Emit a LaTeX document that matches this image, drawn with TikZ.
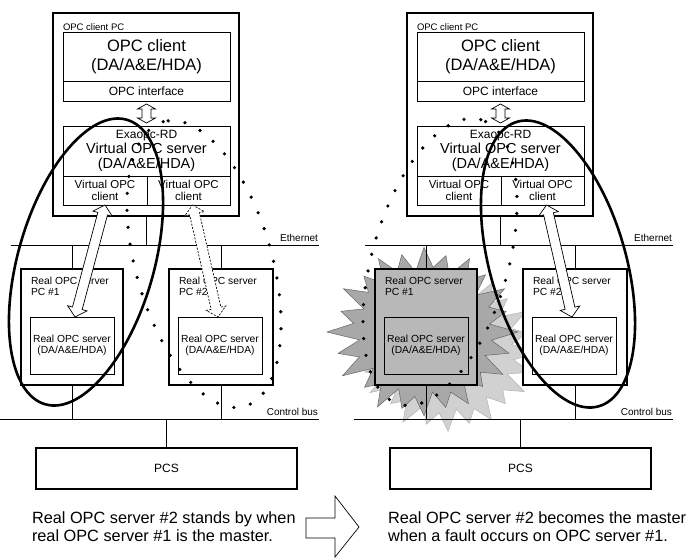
\documentclass[tikz,border=0pt]{standalone}
\usepackage{fontspec}
\setmainfont{Liberation Sans}
\usetikzlibrary{calc}
\newcommand\fsz[2]{\fontsize{#1}{#2}\selectfont}
\definecolor{stardark}{gray}{0.66}
\definecolor{starlight}{gray}{0.82}
\definecolor{failgray}{gray}{0.72}
\tikzset{
  thickbox/.style={draw, line width=2.6pt, anchor=north west, inner sep=0pt, outer sep=0pt},
  thinbox/.style={draw, line width=0.75pt, anchor=north west, inner sep=0pt, outer sep=0pt, align=center},
  bus/.style={line width=0.75pt},
  solidell/.style={line width=2.6pt},
  dotell/.style={line width=3.6pt, dash pattern=on 0pt off 17pt, line cap=round},
  lbl/.style={inner sep=0pt, outer sep=0pt},
}
% hollow double-headed arrow: [style]{from}{to}{head length}{head half width}{shaft half width}
\newcommand\hollowarrow[6][]{%
  \draw[fill=white, line width=0.7pt, #1] let \p1=(#2), \p2=(#3),
    \n1={atan2(\y2-\y1,\x2-\x1)}, \n2={veclen(\x2-\x1,\y2-\y1)} in
    [shift={(\p1)}, rotate=\n1]
    (0pt,0pt) -- (#4pt,#5pt) -- (#4pt,#6pt) -- (\n2-#4pt,#6pt) -- (\n2-#4pt,#5pt) -- (\n2,0pt)
    -- (\n2-#4pt,-#5pt) -- (\n2-#4pt,-#6pt) -- (#4pt,-#6pt) -- (#4pt,-#5pt) -- cycle;}
\newcommand\drawpanel[2]{%
  \coordinate (#1ethL) at (11,245);
  \coordinate (#1ethR) at (319,245);
  \coordinate (#1cbL) at (0,419);
  \coordinate (#1cbR) at (319,419);
  \draw[bus] (#1ethL) -- (#1ethR);
  \draw[bus] (#1cbL) -- (#1cbR);
  \node[lbl, font=\fsz{10}{12}, anchor=base east] (#1ethlbl) at (318,241) {Ethernet};
  \node[lbl, font=\fsz{10}{12}, anchor=base east] (#1cblbl) at (318,415) {Control bus};
  % client PC
  \node[thickbox, fill=white, minimum width=186pt, minimum height=203pt] (#1cpc) at (53,13) {};
  \node[lbl, font=\fsz{9.5}{11}, anchor=base west] (#1cpcl) at (63,30) {OPC client PC};
  \node[thinbox, minimum width=167pt, minimum height=49pt, font=\fsz{16.5}{19}] (#1oc) at (63,32) {OPC client\\(DA/A\&E/HDA)};
  \node[thinbox, minimum width=167pt, minimum height=20pt, font=\fsz{12}{14}] (#1if) at (63,81) {OPC interface};
  \node[thinbox, minimum width=167pt, minimum height=50pt, font=\fsz{14.5}{15}] (#1ex) at (63,126) {{\fsz{12}{15}Exaopc-RD}\\Virtual OPC server\\(DA/A\&E/HDA)};
  \node[thinbox, minimum width=84pt, minimum height=29pt, font=\fsz{11.5}{12.5}] (#1vc1) at (63,176) {Virtual OPC\\client};
  \node[thinbox, minimum width=83pt, minimum height=29pt, font=\fsz{11.5}{12.5}] (#1vc2) at (147,176) {Virtual OPC\\client};
  \hollowarrow{$(#1if.south)+(0,3)$}{$(#1ex.north)+(0,-3)$}{5}{9}{4.5}
  \draw[bus] (#1cpc.south) -- (#1cpc.south |- #1ethL);
  % real OPC server PC 1
  \node[thickbox, fill=#2, minimum width=102pt, minimum height=116pt] (#1pc1) at (21,269) {};
  \node[lbl, font=\fsz{10.3}{11.5}, anchor=north west, align=left] (#1pc1l) at (31,277) {Real OPC server\\PC \#1};
  \node[thinbox, fill=#2, minimum width=84pt, minimum height=57pt, font=\fsz{10.3}{11.5}] (#1rs1) at (30,317) {Real OPC server\\(DA/A\&E/HDA)};
  % real OPC server PC 2
  \node[thickbox, fill=white, minimum width=104pt, minimum height=116pt] (#1pc2) at (169,269) {};
  \node[lbl, font=\fsz{10.3}{11.5}, anchor=north west, align=left] (#1pc2l) at (179,277) {Real OPC server\\PC \#2};
  \node[thinbox, fill=white, minimum width=84pt, minimum height=57pt, font=\fsz{10.3}{11.5}] (#1rs2) at (178,317) {Real OPC server\\(DA/A\&E/HDA)};
  \draw[bus] (#1pc1.north) -- (#1pc1.north |- #1ethL);
  \draw[bus] (#1pc1.south) -- (#1pc1.south |- #1cbL);
  \draw[bus] (#1pc2.north) -- (#1pc2.north |- #1ethL);
  \draw[bus] (#1pc2.south) -- (#1pc2.south |- #1cbL);
  % PCS
  \node[thickbox, fill=white, minimum width=261pt, minimum height=41pt, font=\fsz{12}{14}] (#1pcs) at (36,448) {PCS};
  \draw[bus] (#1pcs.north) -- (#1pcs.north |- #1cbL);
}
\begin{document}
\begin{tikzpicture}[x=1pt, y=-1pt]
\useasboundingbox (0,0) rectangle (694,558);
\fill[white] (0,0) rectangle (694,558);
% fault bursts
\begin{scope}[shift={(448,352)}, yscale=0.9]
\draw[fill=starlight, draw=black!30, line width=0.5pt]
 (0:90) -- (7.5:66) -- (15:86) -- (22.5:64) -- (30:88) -- (37.5:69) -- (45:81) -- (52.5:63) -- (60:87) -- (67.5:68)
 -- (75:82) -- (82.5:64) -- (90:88) -- (97.5:68) -- (105:83) -- (112.5:65) -- (120:90) -- (127.5:68) -- (135:81) -- (142.5:63)
 -- (150:90) -- (157.5:67) -- (165:86) -- (172.5:64) -- (180:92) -- (187.5:69) -- (195:83) -- (202.5:64) -- (210:89) -- (217.5:68)
 -- (225:82) -- (232.5:67) -- (240:88) -- (247.5:66) -- (255:85) -- (262.5:64) -- (270:88) -- (277.5:68) -- (285:82) -- (292.5:64)
 -- (300:89) -- (307.5:68) -- (315:84) -- (322.5:64) -- (330:90) -- (337.5:68) -- (345:82) -- (352.5:64) -- cycle;
\end{scope}
\begin{scope}[shift={(424,332)}, yscale=0.93]
\draw[fill=stardark, draw=black!60, line width=0.5pt]
 (0:94) -- (7.5:68) -- (15:88) -- (22.5:66) -- (30:91) -- (37.5:71) -- (45:83) -- (52.5:64) -- (60:89) -- (67.5:70)
 -- (75:84) -- (82.5:65) -- (90:90) -- (97.5:70) -- (105:85) -- (112.5:66) -- (120:93) -- (127.5:70) -- (135:84) -- (142.5:64)
 -- (150:94) -- (157.5:70) -- (165:89) -- (172.5:65) -- (180:97) -- (187.5:71) -- (195:86) -- (202.5:65) -- (210:93) -- (217.5:70)
 -- (225:85) -- (232.5:66) -- (240:91) -- (247.5:70) -- (255:86) -- (262.5:65) -- (270:91) -- (277.5:70) -- (285:85) -- (292.5:66)
 -- (300:91) -- (307.5:70) -- (315:87) -- (322.5:65) -- (330:93) -- (337.5:70) -- (345:85) -- (352.5:66) -- cycle;
\end{scope}
\drawpanel{L}{white}
\begin{scope}[xshift=354pt]
\drawpanel{R}{failgray}
\end{scope}
% links between virtual clients and real servers
\hollowarrow{Lvc1.south}{$(Lrs1.north)+(3,0)$}{9}{10}{5}
\hollowarrow[dash pattern=on 2pt off 1.5pt]{$(Lvc2.south)+(4,0)$}{$(Lrs2.north)+(-2,0)$}{9}{10}{5}
\hollowarrow{$(Rvc2.south)+(4,0)$}{$(Rrs2.north)+(-2,0)$}{9}{10}{5}
% groupings
\draw[solidell, rotate around={74:(86,262)}] (86,262) ellipse [x radius=148pt, y radius=68pt];
\draw[dotell, rotate around={106:(204,264)}] (204,264) ellipse [x radius=148pt, y radius=68pt];
\draw[dotell, rotate around={74:(440,262)}] (440,262) ellipse [x radius=148pt, y radius=68pt];
\draw[solidell, rotate around={106:(558,264)}] (558,264) ellipse [x radius=148pt, y radius=68pt];
% captions
\node[lbl, font=\fsz{16.3}{17.5}, anchor=north west, align=left] (capL) at (32,512) {Real OPC server \#2 stands by when\\real OPC server \#1 is the master.};
\node[lbl, font=\fsz{16.3}{17.5}, anchor=north west, align=left] (capR) at (388,512) {Real OPC server \#2 becomes the master\\when a fault occurs on OPC server \#1.};
\draw[line width=0.7pt, fill=white] (306,518) -- (335,518) -- (335,496) -- (359,527) -- (335,557) -- (335,538) -- (306,538) -- cycle;
\end{tikzpicture}
\end{document}
